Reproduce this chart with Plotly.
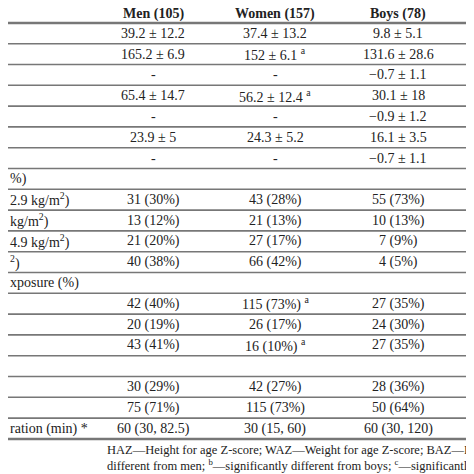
import plotly.graph_objects as go

headers = ["Men (105)", "Women (157)", "Boys (78)"]
row_labels = ["", "", "", "", "", "", "", "%)", "2.9 kg/m<sup>2</sup>)", "kg/m<sup>2</sup>)",
              "4.9 kg/m<sup>2</sup>)", "<sup>2</sup>)", "xposure (%)", "", "", "", "", "", "",
              "ration (min) *"]
men = ["39.2 ± 12.2", "165.2 ± 6.9", "-", "65.4 ± 14.7", "-", "23.9 ± 5", "-", "",
       "31 (30%)", "13 (12%)", "21 (20%)", "40 (38%)", "", "42 (40%)", "20 (19%)", "43 (41%)", "",
       "30 (29%)", "75 (71%)", "60 (30, 82.5)"]
women = ["37.4 ± 13.2", "152 ± 6.1 <sup>a</sup>", "-", "56.2 ± 12.4 <sup>a</sup>", "-", "24.3 ± 5.2", "-", "",
         "43 (28%)", "21 (13%)", "27 (17%)", "66 (42%)", "", "115 (73%) <sup>a</sup>", "26 (17%)",
         "16 (10%) <sup>a</sup>", "", "42 (27%)", "115 (73%)", "30 (15, 60)"]
boys = ["9.8 ± 5.1", "131.6 ± 28.6", "−0.7 ± 1.1", "30.1 ± 18", "−0.9 ± 1.2", "16.1 ± 3.5", "−0.7 ± 1.1", "",
        "55 (73%)", "10 (13%)", "7 (9%)", "4 (5%)", "", "27 (35%)", "24 (30%)", "27 (35%)", "",
        "28 (36%)", "50 (64%)", "60 (30, 120)"]
footnotes = ["HAZ—Height for age Z-score; WAZ—Weight for age Z-score; BAZ—BMI for age Z-score; <sup>a</sup>—significantly",
             "different from men; <sup>b</sup>—significantly different from boys; <sup>c</sup>—significantly different from women",
             "75th percentile)."]

col_x = [145, 267, 390]
y0, dy = 4.5, 20.8
font = dict(family="Liberation Serif", size=14, color="#222")

fig = go.Figure()
for i, h in enumerate(headers):
    fig.add_annotation(x=col_x[i], y=y0 + 1, text="<b>" + h + "</b>", showarrow=False, font=font)
for r in range(len(men)):
    y = y0 + dy * (r + 1)
    fig.add_annotation(x=0, y=y, text=row_labels[r], showarrow=False, xanchor="left", font=font)
    for i, col in enumerate([men, women, boys]):
        fig.add_annotation(x=col_x[i], y=y, text=col[r], showarrow=False, font=font)
for r in range(len(men) + 1):
    y = y0 + dy * (r + 0.5)
    w = 2.5 if r in (0, len(men)) else 1.6
    fig.add_shape(type="line", x0=0, x1=474, y0=y, y1=y, line=dict(color="#777", width=w))
for k, t in enumerate(footnotes):
    fig.add_annotation(x=97, y=441 + 16 * k, text=t, showarrow=False, xanchor="left",
                       font=dict(family="Liberation Serif", size=12.5, color="#222"))

fig.update_layout(width=474, height=474, margin=dict(l=0, r=0, t=0, b=0),
                  paper_bgcolor="white", plot_bgcolor="white", showlegend=False)
fig.update_xaxes(range=[0, 474], visible=False)
fig.update_yaxes(range=[474, 0], visible=False)
fig.write_html("out.html")
